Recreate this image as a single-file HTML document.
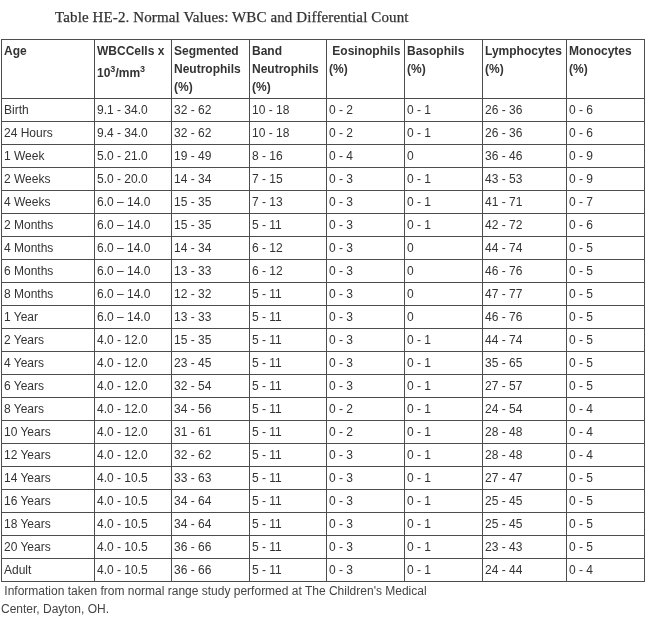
<!DOCTYPE html><html><head><meta charset="utf-8"><style>
html,body{margin:0;padding:0;background:#fff;width:650px;height:619px;overflow:hidden;position:relative}
body{filter:grayscale(1)}
body{font-family:"Liberation Sans",sans-serif;font-size:12px;color:#333}
.title{position:absolute;left:55px;top:7px;letter-spacing:0.12px;font-family:"Liberation Serif",serif;font-size:15px;line-height:20px;color:#333;white-space:nowrap;-webkit-text-stroke:0.25px #333}
table{position:absolute;left:1px;top:39px;border-collapse:separate;border-spacing:0;table-layout:fixed;width:644px;border-left:1px solid #4d4d4d;border-top:1px solid #4d4d4d}
th,td{box-sizing:border-box;border-right:1px solid #4d4d4d;border-bottom:1px solid #4d4d4d;padding:2px 0 2px 2px;line-height:18px;vertical-align:top;text-align:left;white-space:nowrap;overflow:hidden}
th{font-weight:bold;height:59px}
td{height:23px}
sup{font-size:9px;vertical-align:5px}
.foot{position:absolute;left:1px;top:582px;line-height:18px;color:#444;white-space:nowrap}

</style></head><body>
<div class="title">Table HE-2. Normal Values: WBC and Differential Count</div>
<table><colgroup><col style="width:93px"><col style="width:77px"><col style="width:78px"><col style="width:77px"><col style="width:78px"><col style="width:78px"><col style="width:84px"><col style="width:78px"></colgroup>
<tr class="h"><th>Age</th><th>WBCCells x<br>10<sup>3</sup>/mm<sup>3</sup></th><th>Segmented<br>Neutrophils<br>(%)</th><th>Band<br>Neutrophils<br>(%)</th><th>&nbsp;Eosinophils<br>(%)</th><th>Basophils<br>(%)</th><th>Lymphocytes<br>(%)</th><th>Monocytes<br>(%)</th></tr>
<tr><td>Birth</td><td>9.1 - 34.0</td><td>32 - 62</td><td>10 - 18</td><td>0 - 2</td><td>0 - 1</td><td>26 - 36</td><td>0 - 6</td></tr>
<tr><td>24 Hours</td><td>9.4 - 34.0</td><td>32 - 62</td><td>10 - 18</td><td>0 - 2</td><td>0 - 1</td><td>26 - 36</td><td>0 - 6</td></tr>
<tr><td>1 Week</td><td>5.0 - 21.0</td><td>19 - 49</td><td>8 - 16</td><td>0 - 4</td><td>0</td><td>36 - 46</td><td>0 - 9</td></tr>
<tr><td>2 Weeks</td><td>5.0 - 20.0</td><td>14 - 34</td><td>7 - 15</td><td>0 - 3</td><td>0 - 1</td><td>43 - 53</td><td>0 - 9</td></tr>
<tr><td>4 Weeks</td><td>6.0 – 14.0</td><td>15 - 35</td><td>7 - 13</td><td>0 - 3</td><td>0 - 1</td><td>41 - 71</td><td>0 - 7</td></tr>
<tr><td>2 Months</td><td>6.0 – 14.0</td><td>15 - 35</td><td>5 - 11</td><td>0 - 3</td><td>0 - 1</td><td>42 - 72</td><td>0 - 6</td></tr>
<tr><td>4 Months</td><td>6.0 – 14.0</td><td>14 - 34</td><td>6 - 12</td><td>0 - 3</td><td>0</td><td>44 - 74</td><td>0 - 5</td></tr>
<tr><td>6 Months</td><td>6.0 – 14.0</td><td>13 - 33</td><td>6 - 12</td><td>0 - 3</td><td>0</td><td>46 - 76</td><td>0 - 5</td></tr>
<tr><td>8 Months</td><td>6.0 – 14.0</td><td>12 - 32</td><td>5 - 11</td><td>0 - 3</td><td>0</td><td>47 - 77</td><td>0 - 5</td></tr>
<tr><td>1 Year</td><td>6.0 – 14.0</td><td>13 - 33</td><td>5 - 11</td><td>0 - 3</td><td>0</td><td>46 - 76</td><td>0 - 5</td></tr>
<tr><td>2 Years</td><td>4.0 - 12.0</td><td>15 - 35</td><td>5 - 11</td><td>0 - 3</td><td>0 - 1</td><td>44 - 74</td><td>0 - 5</td></tr>
<tr><td>4 Years</td><td>4.0 - 12.0</td><td>23 - 45</td><td>5 - 11</td><td>0 - 3</td><td>0 - 1</td><td>35 - 65</td><td>0 - 5</td></tr>
<tr><td>6 Years</td><td>4.0 - 12.0</td><td>32 - 54</td><td>5 - 11</td><td>0 - 3</td><td>0 - 1</td><td>27 - 57</td><td>0 - 5</td></tr>
<tr><td>8 Years</td><td>4.0 - 12.0</td><td>34 - 56</td><td>5 - 11</td><td>0 - 2</td><td>0 - 1</td><td>24 - 54</td><td>0 - 4</td></tr>
<tr><td>10 Years</td><td>4.0 - 12.0</td><td>31 - 61</td><td>5 - 11</td><td>0 - 2</td><td>0 - 1</td><td>28 - 48</td><td>0 - 4</td></tr>
<tr><td>12 Years</td><td>4.0 - 12.0</td><td>32 - 62</td><td>5 - 11</td><td>0 - 3</td><td>0 - 1</td><td>28 - 48</td><td>0 - 4</td></tr>
<tr><td>14 Years</td><td>4.0 - 10.5</td><td>33 - 63</td><td>5 - 11</td><td>0 - 3</td><td>0 - 1</td><td>27 - 47</td><td>0 - 5</td></tr>
<tr><td>16 Years</td><td>4.0 - 10.5</td><td>34 - 64</td><td>5 - 11</td><td>0 - 3</td><td>0 - 1</td><td>25 - 45</td><td>0 - 5</td></tr>
<tr><td>18 Years</td><td>4.0 - 10.5</td><td>34 - 64</td><td>5 - 11</td><td>0 - 3</td><td>0 - 1</td><td>25 - 45</td><td>0 - 5</td></tr>
<tr><td>20 Years</td><td>4.0 - 10.5</td><td>36 - 66</td><td>5 - 11</td><td>0 - 3</td><td>0 - 1</td><td>23 - 43</td><td>0 - 5</td></tr>
<tr><td>Adult</td><td>4.0 - 10.5</td><td>36 - 66</td><td>5 - 11</td><td>0 - 3</td><td>0 - 1</td><td>24 - 44</td><td>0 - 4</td></tr>
</table>
<div class="foot">&nbsp;Information taken from normal range study performed at The Children's Medical<br>Center, Dayton, OH.</div>
</body></html>
